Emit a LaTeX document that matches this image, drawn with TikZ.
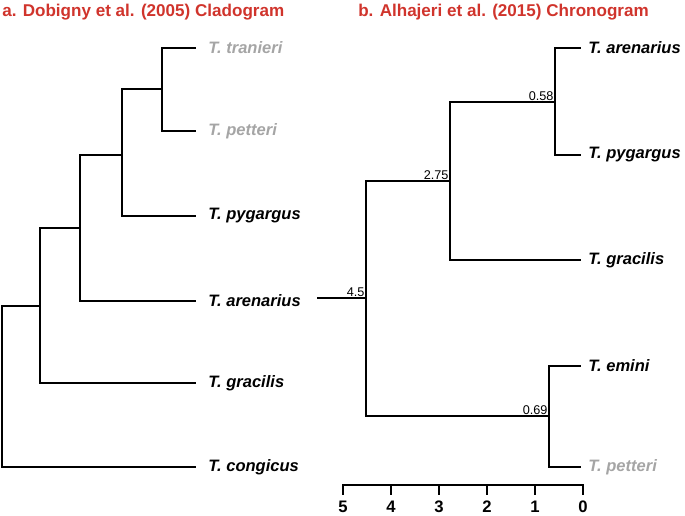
\documentclass[tikz,border=0pt]{standalone}
\usepackage{fontspec}
\setmainfont{Liberation Sans}
\definecolor{ttl}{RGB}{208,52,44}
\definecolor{gr}{RGB}{165,165,165}
\begin{document}
\begin{tikzpicture}[x=0.75pt,y=-0.75pt,
  br/.style={line width=1.8pt,line cap=rect},
  tip/.style={anchor=west,font=\fontsize{12.4}{14}\selectfont\bfseries\itshape,inner sep=0pt},
  gtip/.style={tip,text=gr},
  ttlst/.style={anchor=west,font=\fontsize{12.8}{15}\selectfont\bfseries,text=ttl,inner sep=0pt},
  nl/.style={anchor=south east,font=\fontsize{9.5}{11}\selectfont,inner sep=1pt},
  ax/.style={font=\fontsize{12.5}{14}\selectfont\bfseries,inner sep=0pt}]
\useasboundingbox (0,0) rectangle (685,516);
\node[ttlst] (ta) at (2,12) {a. Dobigny et al. (2005) Cladogram};
\node[ttlst] (tb) at (358,12) {b. Alhajeri et al. (2015) Chronogram};
% left cladogram
\node[gtip] (l1) at (208,48) {T. tranieri};
\node[gtip] (l2) at (208,131) {T. petteri};
\node[tip] (l3) at (208,216) {T. pygargus};
\node[tip] (l4) at (208,301) {T. arenarius};
\node[tip] (l5) at (208,383) {T. gracilis};
\node[tip] (l6) at (208,467) {T. congicus};
\coordinate (a1) at (162,89);
\coordinate (a2) at (122,155);
\coordinate (a3) at (80,228);
\coordinate (a4) at (40,306);
\draw[br] (a1|-l1) -- (195,48) (a1|-l1) -- (a1|-l2) (a1|-l2) -- (195,131);
\draw[br] (a2|-a1) -- (a1) (a2|-a1) -- (a2|-l3) -- (195,216);
\draw[br] (a3|-a2) -- (a2) (a3|-a2) -- (a3|-l4) -- (195,301);
\draw[br] (a4|-a3) -- (a3) (a4|-a3) -- (a4|-l5) -- (195,383);
\draw[br] (2,306) -- (a4) (2,306) -- (2,467) -- (195,467);
% right chronogram
\node[tip] (r1) at (588,48) {T. arenarius};
\node[tip] (r2) at (588,155) {T. pygargus};
\node[tip] (r3) at (588,260) {T. gracilis};
\node[tip] (r4) at (588,366) {T. emini};
\node[gtip] (r5) at (588,467) {T. petteri};
\coordinate (b1) at (555,102);
\coordinate (b2) at (450,181);
\coordinate (b3) at (366,298);
\coordinate (b4) at (549,416);
\draw[br] (b1|-r1) -- (580,48) (b1|-r1) -- (b1|-r2) -- (580,155);
\draw[br] (b2) -- (b2|-b1) -- (b1) (b2) -- (b2|-r3) -- (580,260);
\draw[br] (b4|-r4) -- (580,366) (b4|-r4) -- (b4|-r5) -- (580,467);
\draw[br] (b3|-b2) -- (b2) (b3|-b2) -- (b3|-b4) -- (b4);
\draw[br] (318,298) -- (b3);
\node[nl] (n1) at (b1) {0.58};
\node[nl] (n2) at (b2) {2.75};
\node[nl] (n3) at (b3) {4.5};
\node[nl] (n4) at (b4) {0.69};
% axis
\draw[br] (343,485) -- (583,485);
\foreach \i/\x in {5/343,4/391,3/439,2/487,1/535,0/583}{
  \draw[br] (\x,485) -- (\x,494);
  \node[ax] (t\i) at (\x,507) {\i};
}
\end{tikzpicture}
\end{document}
